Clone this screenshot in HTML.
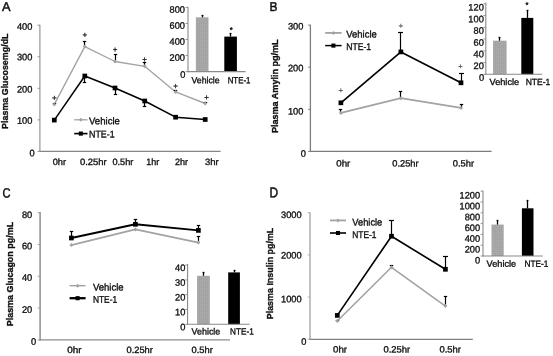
<!DOCTYPE html>
<html lang="en">
<head>
<meta charset="utf-8">
<title>Plasma glucose, amylin, glucagon and insulin: Vehicle vs NTE-1</title>
<style>
html,body{margin:0;padding:0;background:#fff;}
body{width:553px;height:356px;overflow:hidden;}
svg{display:block;}
svg text{font-family:"Liberation Sans",Arial,Helvetica,sans-serif;fill:#111;stroke:#111;stroke-width:0.34px;}
</style>
</head>
<body>
<svg width="553" height="356" viewBox="0 0 553 356">
<rect width="553" height="356" fill="#fff"/>
<defs><pattern id="dots" width="2" height="2" patternUnits="userSpaceOnUse"><rect width="2" height="2" fill="#a6a6a6"/><rect width="1" height="1" fill="#aaaaaa"/><rect x="1" y="1" width="1" height="1" fill="#a1a1a1"/></pattern></defs>
<text x="2" y="10.9" font-size="12.8" style="stroke-width:0.5px;" transform="rotate(0.05 2 10.9)">A</text>
<text x="8.1" y="81.2" font-size="9.1" text-anchor="middle" font-weight="bold" textLength="95.4" lengthAdjust="spacingAndGlyphs" transform="rotate(-90 8.1 81.2)">Plasma Glucosemg/dL</text>
<line x1="39.9" y1="24.7" x2="39.9" y2="152" stroke="#8c8c8c" stroke-width="1.1"/>
<line x1="39.35" y1="151.4" x2="220.6" y2="151.4" stroke="#858585" stroke-width="1.2"/>
<line x1="37.5" y1="25.2" x2="39.9" y2="25.2" stroke="#8c8c8c" stroke-width="0.9"/>
<text x="16.95" y="29.67" font-size="9.4" textLength="15.45" lengthAdjust="spacingAndGlyphs" transform="rotate(0.05 16.95 29.67)">400</text>
<line x1="37.5" y1="56.75" x2="39.9" y2="56.75" stroke="#8c8c8c" stroke-width="0.9"/>
<text x="16.95" y="60.37" font-size="9.4" textLength="15.45" lengthAdjust="spacingAndGlyphs" transform="rotate(0.05 16.95 60.37)">300</text>
<line x1="37.5" y1="88.3" x2="39.9" y2="88.3" stroke="#8c8c8c" stroke-width="0.9"/>
<text x="16.95" y="92.57" font-size="9.4" textLength="15.45" lengthAdjust="spacingAndGlyphs" transform="rotate(0.05 16.95 92.57)">200</text>
<line x1="37.5" y1="119.85" x2="39.9" y2="119.85" stroke="#8c8c8c" stroke-width="0.9"/>
<text x="16.95" y="123.77" font-size="9.4" textLength="15.45" lengthAdjust="spacingAndGlyphs" transform="rotate(0.05 16.95 123.77)">100</text>
<line x1="37.5" y1="151.4" x2="39.9" y2="151.4" stroke="#8c8c8c" stroke-width="0.9"/>
<text x="29.55" y="156.27" font-size="9.4" textLength="5.15" lengthAdjust="spacingAndGlyphs" transform="rotate(0.05 29.55 156.27)">0</text>
<polyline fill="none" stroke="#a3a3a3" stroke-width="1.35" stroke-linejoin="round" points="54.3,104.4 84.8,46.6 115,61.5 144.7,66.3 175.6,91.9 205.2,103.5"/>
<polyline fill="none" stroke="#000" stroke-width="1.5" stroke-linejoin="round" points="54.3,120.1 84.8,76 115,88 144.7,101 175.6,117.2 205.2,119.5"/>
<line x1="54.5" y1="104.4" x2="54.5" y2="103" stroke="#000" stroke-width="1.2"/>
<line x1="52.8" y1="103.5" x2="56.2" y2="103.5" stroke="#000" stroke-width="1.2"/>
<line x1="84.5" y1="46.6" x2="84.5" y2="41" stroke="#000" stroke-width="1.2"/>
<line x1="82.8" y1="41.5" x2="86.2" y2="41.5" stroke="#000" stroke-width="1.2"/>
<line x1="115.5" y1="61.5" x2="115.5" y2="54" stroke="#000" stroke-width="1.2"/>
<line x1="113.8" y1="54.5" x2="117.2" y2="54.5" stroke="#000" stroke-width="1.2"/>
<line x1="144.5" y1="66.3" x2="144.5" y2="62" stroke="#000" stroke-width="1.2"/>
<line x1="142.8" y1="62.5" x2="146.2" y2="62.5" stroke="#000" stroke-width="1.2"/>
<line x1="175.5" y1="91.9" x2="175.5" y2="90" stroke="#000" stroke-width="1.2"/>
<line x1="173.8" y1="90.5" x2="177.2" y2="90.5" stroke="#000" stroke-width="1.2"/>
<line x1="205.5" y1="103.5" x2="205.5" y2="102" stroke="#000" stroke-width="1.2"/>
<line x1="203.8" y1="102.5" x2="207.2" y2="102.5" stroke="#000" stroke-width="1.2"/>
<line x1="84.5" y1="76" x2="84.5" y2="82" stroke="#000" stroke-width="1.2"/>
<line x1="82.8" y1="82.5" x2="86.2" y2="82.5" stroke="#000" stroke-width="1.2"/>
<line x1="115.5" y1="88" x2="115.5" y2="94" stroke="#000" stroke-width="1.2"/>
<line x1="113.8" y1="94.5" x2="117.2" y2="94.5" stroke="#000" stroke-width="1.2"/>
<line x1="144.5" y1="101" x2="144.5" y2="106" stroke="#000" stroke-width="1.2"/>
<line x1="142.8" y1="106.5" x2="146.2" y2="106.5" stroke="#000" stroke-width="1.2"/>
<path d="M52.3 104.4L54.3 102.4L56.3 104.4L54.3 106.4Z" fill="#a3a3a3"/>
<path d="M82.8 46.6L84.8 44.6L86.8 46.6L84.8 48.6Z" fill="#a3a3a3"/>
<path d="M113 61.5L115 59.5L117 61.5L115 63.5Z" fill="#a3a3a3"/>
<path d="M142.7 66.3L144.7 64.3L146.7 66.3L144.7 68.3Z" fill="#a3a3a3"/>
<path d="M173.6 91.9L175.6 89.9L177.6 91.9L175.6 93.9Z" fill="#a3a3a3"/>
<path d="M203.2 103.5L205.2 101.5L207.2 103.5L205.2 105.5Z" fill="#a3a3a3"/>
<rect x="51.95" y="117.75" width="4.7" height="4.7" fill="#000"/>
<rect x="82.45" y="73.65" width="4.7" height="4.7" fill="#000"/>
<rect x="112.65" y="85.65" width="4.7" height="4.7" fill="#000"/>
<rect x="142.35" y="98.65" width="4.7" height="4.7" fill="#000"/>
<rect x="173.25" y="114.85" width="4.7" height="4.7" fill="#000"/>
<rect x="202.85" y="117.15" width="4.7" height="4.7" fill="#000"/>
<text x="54.3" y="100.6" font-size="8" text-anchor="middle" style="fill:#222;stroke:#222;" transform="rotate(0.05 54.3 100.6)">+</text>
<text x="84.8" y="37.6" font-size="8" text-anchor="middle" style="fill:#222;stroke:#222;" transform="rotate(0.05 84.8 37.6)">+</text>
<text x="115" y="52.3" font-size="8" text-anchor="middle" style="fill:#222;stroke:#222;" transform="rotate(0.05 115 52.3)">+</text>
<text x="144.7" y="62.1" font-size="8" text-anchor="middle" style="fill:#222;stroke:#222;" transform="rotate(0.05 144.7 62.1)">+</text>
<text x="175.6" y="88.8" font-size="8" text-anchor="middle" style="fill:#222;stroke:#222;" transform="rotate(0.05 175.6 88.8)">+</text>
<text x="206.5" y="99.9" font-size="8" text-anchor="middle" style="fill:#222;stroke:#222;" transform="rotate(0.05 206.5 99.9)">+</text>
<line x1="74.2" y1="119.8" x2="87.5" y2="119.8" stroke="#a3a3a3" stroke-width="1.3"/>
<path d="M78.85 119.8L80.85 117.8L82.85 119.8L80.85 121.8Z" fill="#a3a3a3"/>
<line x1="74.2" y1="133.6" x2="87.5" y2="133.6" stroke="#000" stroke-width="1.6"/>
<rect x="78.8" y="131.55" width="4.1" height="4.1" fill="#000"/>
<text x="89" y="124.3" font-size="9.7" textLength="30.9" lengthAdjust="spacingAndGlyphs" transform="rotate(0.05 89 124.3)">Vehicle</text>
<text x="89" y="137.5" font-size="9.7" textLength="25.65" lengthAdjust="spacingAndGlyphs" transform="rotate(0.05 89 137.5)">NTE-1</text>
<text x="52.7" y="165.1" font-size="9.2" textLength="13.3" lengthAdjust="spacingAndGlyphs" transform="rotate(0.05 52.7 165.1)">0hr</text>
<text x="79.9" y="165.1" font-size="9.2" textLength="26.8" lengthAdjust="spacingAndGlyphs" transform="rotate(0.05 79.9 165.1)">0.25hr</text>
<text x="112.4" y="165.1" font-size="9.2" textLength="20.9" lengthAdjust="spacingAndGlyphs" transform="rotate(0.05 112.4 165.1)">0.5hr</text>
<text x="146.3" y="165.1" font-size="9.2" textLength="13" lengthAdjust="spacingAndGlyphs" transform="rotate(0.05 146.3 165.1)">1hr</text>
<text x="175.1" y="165.1" font-size="9.2" textLength="13" lengthAdjust="spacingAndGlyphs" transform="rotate(0.05 175.1 165.1)">2hr</text>
<text x="204.9" y="165.1" font-size="9.2" textLength="13.8" lengthAdjust="spacingAndGlyphs" transform="rotate(0.05 204.9 165.1)">3hr</text>
<rect x="195.9" y="17.3" width="12.6" height="54.3" fill="url(#dots)"/>
<line x1="202.5" y1="17.3" x2="202.5" y2="15" stroke="#000" stroke-width="1.3"/>
<line x1="201.65" y1="15.5" x2="203.35" y2="15.5" stroke="#000" stroke-width="1.3"/>
<rect x="224.3" y="36.6" width="12.6" height="35" fill="#000"/>
<line x1="230.5" y1="36.6" x2="230.5" y2="33" stroke="#000" stroke-width="1.3"/>
<line x1="229.65" y1="33.5" x2="231.35" y2="33.5" stroke="#000" stroke-width="1.3"/>
<line x1="188" y1="6.8" x2="188" y2="72.15" stroke="#8a8a8a" stroke-width="1.1"/>
<line x1="187.45" y1="71.6" x2="245.6" y2="71.6" stroke="#8a8a8a" stroke-width="1.1"/>
<line x1="185.6" y1="7.44" x2="188" y2="7.44" stroke="#8a8a8a" stroke-width="0.9"/>
<text x="169.55" y="12.87" font-size="9.4" textLength="15.45" lengthAdjust="spacingAndGlyphs" transform="rotate(0.05 169.55 12.87)">800</text>
<line x1="185.6" y1="23.48" x2="188" y2="23.48" stroke="#8a8a8a" stroke-width="0.9"/>
<text x="169.55" y="28.87" font-size="9.4" textLength="15.45" lengthAdjust="spacingAndGlyphs" transform="rotate(0.05 169.55 28.87)">600</text>
<line x1="185.6" y1="39.52" x2="188" y2="39.52" stroke="#8a8a8a" stroke-width="0.9"/>
<text x="169.55" y="44.77" font-size="9.4" textLength="15.45" lengthAdjust="spacingAndGlyphs" transform="rotate(0.05 169.55 44.77)">400</text>
<line x1="185.6" y1="55.56" x2="188" y2="55.56" stroke="#8a8a8a" stroke-width="0.9"/>
<text x="169.55" y="60.67" font-size="9.4" textLength="15.45" lengthAdjust="spacingAndGlyphs" transform="rotate(0.05 169.55 60.67)">200</text>
<line x1="185.6" y1="71.6" x2="188" y2="71.6" stroke="#8a8a8a" stroke-width="0.9"/>
<text x="180.15" y="77.77" font-size="9.4" textLength="5.15" lengthAdjust="spacingAndGlyphs" transform="rotate(0.05 180.15 77.77)">0</text>
<text x="191.5" y="83.2" font-size="9" textLength="28" lengthAdjust="spacingAndGlyphs" transform="rotate(0.05 191.5 83.2)">Vehicle</text>
<text x="227.7" y="83.2" font-size="9" textLength="22.7" lengthAdjust="spacingAndGlyphs" transform="rotate(0.05 227.7 83.2)">NTE-1</text>
<text x="231.2" y="32.6" font-size="7.6" text-anchor="middle" transform="rotate(0.05 231.2 32.6)">*</text>
<text x="269.6" y="10.9" font-size="12.8" style="stroke-width:0.5px;" textLength="8" lengthAdjust="spacingAndGlyphs" transform="rotate(0.05 269.6 10.9)">B</text>
<text x="278.5" y="86.2" font-size="9.1" text-anchor="middle" font-weight="bold" textLength="93.7" lengthAdjust="spacingAndGlyphs" transform="rotate(-90 278.5 86.2)">Plasma Amylin pg/mL</text>
<line x1="310.4" y1="24.7" x2="310.4" y2="152.05" stroke="#7c7c7c" stroke-width="1.3"/>
<line x1="309.75" y1="151.4" x2="491.6" y2="151.4" stroke="#7c7c7c" stroke-width="1.3"/>
<line x1="308" y1="25.1" x2="310.4" y2="25.1" stroke="#7c7c7c" stroke-width="0.9"/>
<text x="287.95" y="29.57" font-size="9.4" textLength="15.45" lengthAdjust="spacingAndGlyphs" transform="rotate(0.05 287.95 29.57)">300</text>
<line x1="308" y1="67.2" x2="310.4" y2="67.2" stroke="#7c7c7c" stroke-width="0.9"/>
<text x="287.95" y="71.37" font-size="9.4" textLength="15.45" lengthAdjust="spacingAndGlyphs" transform="rotate(0.05 287.95 71.37)">200</text>
<line x1="308" y1="109.3" x2="310.4" y2="109.3" stroke="#7c7c7c" stroke-width="0.9"/>
<text x="287.95" y="114.57" font-size="9.4" textLength="15.45" lengthAdjust="spacingAndGlyphs" transform="rotate(0.05 287.95 114.57)">100</text>
<line x1="308" y1="151.4" x2="310.4" y2="151.4" stroke="#7c7c7c" stroke-width="0.9"/>
<text x="300.85" y="156.77" font-size="9.4" textLength="5.15" lengthAdjust="spacingAndGlyphs" transform="rotate(0.05 300.85 156.77)">0</text>
<polyline fill="none" stroke="#a3a3a3" stroke-width="1.7" stroke-linejoin="round" points="340.9,112.9 400.9,98.2 461,107.9"/>
<polyline fill="none" stroke="#000" stroke-width="1.65" stroke-linejoin="round" points="340.9,102.8 400.9,51.9 461,82.8"/>
<line x1="340.5" y1="112.9" x2="340.5" y2="109" stroke="#000" stroke-width="1.2"/>
<line x1="338.8" y1="109.5" x2="342.2" y2="109.5" stroke="#000" stroke-width="1.2"/>
<line x1="400.5" y1="98.2" x2="400.5" y2="91" stroke="#000" stroke-width="1.2"/>
<line x1="398.8" y1="91.5" x2="402.2" y2="91.5" stroke="#000" stroke-width="1.2"/>
<line x1="461.5" y1="107.9" x2="461.5" y2="104" stroke="#000" stroke-width="1.2"/>
<line x1="459.8" y1="104.5" x2="463.2" y2="104.5" stroke="#000" stroke-width="1.2"/>
<line x1="400.5" y1="51.9" x2="400.5" y2="32" stroke="#000" stroke-width="1.2"/>
<line x1="398" y1="32.5" x2="403" y2="32.5" stroke="#000" stroke-width="1.2"/>
<line x1="461.5" y1="82.8" x2="461.5" y2="73" stroke="#000" stroke-width="1.2"/>
<line x1="459" y1="73.5" x2="464" y2="73.5" stroke="#000" stroke-width="1.2"/>
<path d="M338.9 112.9L340.9 110.9L342.9 112.9L340.9 114.9Z" fill="#a3a3a3"/>
<path d="M398.9 98.2L400.9 96.2L402.9 98.2L400.9 100.2Z" fill="#a3a3a3"/>
<path d="M459 107.9L461 105.9L463 107.9L461 109.9Z" fill="#a3a3a3"/>
<rect x="338.55" y="100.45" width="4.7" height="4.7" fill="#000"/>
<rect x="398.55" y="49.55" width="4.7" height="4.7" fill="#000"/>
<rect x="458.65" y="80.45" width="4.7" height="4.7" fill="#000"/>
<text x="340.9" y="93" font-size="8" text-anchor="middle" style="fill:#444;stroke:#444;stroke-width:0.1px;" transform="rotate(0.05 340.9 93)">+</text>
<text x="400.9" y="28.4" font-size="8" text-anchor="middle" style="fill:#444;stroke:#444;stroke-width:0.1px;" transform="rotate(0.05 400.9 28.4)">+</text>
<text x="460.4" y="68.9" font-size="8" text-anchor="middle" style="fill:#444;stroke:#444;stroke-width:0.1px;" transform="rotate(0.05 460.4 68.9)">+</text>
<line x1="325.2" y1="32.9" x2="341.6" y2="32.9" stroke="#a3a3a3" stroke-width="1.8"/>
<path d="M331.4 32.9L333.4 30.9L335.4 32.9L333.4 34.9Z" fill="#a3a3a3"/>
<line x1="325.2" y1="45.6" x2="341.6" y2="45.6" stroke="#000" stroke-width="1.5"/>
<rect x="331.35" y="43.55" width="4.1" height="4.1" fill="#000"/>
<text x="346.3" y="37.5" font-size="9.7" textLength="30.49" lengthAdjust="spacingAndGlyphs" transform="rotate(0.05 346.3 37.5)">Vehicle</text>
<text x="346.3" y="49.9" font-size="9.7" textLength="24.85" lengthAdjust="spacingAndGlyphs" transform="rotate(0.05 346.3 49.9)">NTE-1</text>
<text x="336.3" y="166.4" font-size="9.2" textLength="14" lengthAdjust="spacingAndGlyphs" transform="rotate(0.05 336.3 166.4)">0hr</text>
<text x="392.3" y="166.4" font-size="9.2" textLength="26.3" lengthAdjust="spacingAndGlyphs" transform="rotate(0.05 392.3 166.4)">0.25hr</text>
<text x="452.8" y="166.4" font-size="9.2" textLength="21.2" lengthAdjust="spacingAndGlyphs" transform="rotate(0.05 452.8 166.4)">0.5hr</text>
<rect x="493.1" y="40.7" width="13.5" height="33.6" fill="url(#dots)"/>
<line x1="499.5" y1="40.7" x2="499.5" y2="37" stroke="#000" stroke-width="1.3"/>
<line x1="498.65" y1="37.5" x2="500.35" y2="37.5" stroke="#000" stroke-width="1.3"/>
<rect x="521.3" y="17.9" width="12" height="56.4" fill="#000"/>
<line x1="527.5" y1="17.9" x2="527.5" y2="10" stroke="#000" stroke-width="1.3"/>
<line x1="526.65" y1="10.5" x2="528.35" y2="10.5" stroke="#000" stroke-width="1.3"/>
<line x1="485.8" y1="2.5" x2="485.8" y2="74.85" stroke="#8a8a8a" stroke-width="1.1"/>
<line x1="485.25" y1="74.3" x2="542.3" y2="74.3" stroke="#8a8a8a" stroke-width="1.1"/>
<line x1="483.4" y1="3.8" x2="485.8" y2="3.8" stroke="#8a8a8a" stroke-width="0.9"/>
<text x="468.35" y="10.47" font-size="9.4" textLength="15.45" lengthAdjust="spacingAndGlyphs" transform="rotate(0.05 468.35 10.47)">120</text>
<line x1="483.4" y1="15.55" x2="485.8" y2="15.55" stroke="#8a8a8a" stroke-width="0.9"/>
<text x="468.35" y="22.37" font-size="9.4" textLength="15.45" lengthAdjust="spacingAndGlyphs" transform="rotate(0.05 468.35 22.37)">100</text>
<line x1="483.4" y1="27.3" x2="485.8" y2="27.3" stroke="#8a8a8a" stroke-width="0.9"/>
<text x="473.5" y="33.87" font-size="9.4" textLength="10.3" lengthAdjust="spacingAndGlyphs" transform="rotate(0.05 473.5 33.87)">80</text>
<line x1="483.4" y1="39.05" x2="485.8" y2="39.05" stroke="#8a8a8a" stroke-width="0.9"/>
<text x="473.5" y="45.67" font-size="9.4" textLength="10.3" lengthAdjust="spacingAndGlyphs" transform="rotate(0.05 473.5 45.67)">60</text>
<line x1="483.4" y1="50.8" x2="485.8" y2="50.8" stroke="#8a8a8a" stroke-width="0.9"/>
<text x="473.5" y="57.37" font-size="9.4" textLength="10.3" lengthAdjust="spacingAndGlyphs" transform="rotate(0.05 473.5 57.37)">40</text>
<line x1="483.4" y1="62.55" x2="485.8" y2="62.55" stroke="#8a8a8a" stroke-width="0.9"/>
<text x="473.5" y="69.07" font-size="9.4" textLength="10.3" lengthAdjust="spacingAndGlyphs" transform="rotate(0.05 473.5 69.07)">20</text>
<line x1="483.4" y1="74.3" x2="485.8" y2="74.3" stroke="#8a8a8a" stroke-width="0.9"/>
<text x="479.05" y="80.87" font-size="9.4" textLength="5.15" lengthAdjust="spacingAndGlyphs" transform="rotate(0.05 479.05 80.87)">0</text>
<text x="489.5" y="84.9" font-size="9" textLength="29.7" lengthAdjust="spacingAndGlyphs" transform="rotate(0.05 489.5 84.9)">Vehicle</text>
<text x="525.7" y="84.9" font-size="9" textLength="24.7" lengthAdjust="spacingAndGlyphs" transform="rotate(0.05 525.7 84.9)">NTE-1</text>
<text x="527" y="7.5" font-size="7.6" text-anchor="middle" transform="rotate(0.05 527 7.5)">*</text>
<text x="2.4" y="197.5" font-size="13.4" style="stroke-width:0.5px;" textLength="8" lengthAdjust="spacingAndGlyphs" transform="rotate(0.05 2.4 197.5)">C</text>
<text x="13.5" y="274.1" font-size="9.1" text-anchor="middle" font-weight="bold" textLength="104.4" lengthAdjust="spacingAndGlyphs" transform="rotate(-90 13.5 274.1)">Plasma Glucagon pg/mL</text>
<line x1="40.1" y1="212.1" x2="40.1" y2="340.55" stroke="#979797" stroke-width="1.6"/>
<line x1="39.3" y1="339.9" x2="230" y2="339.9" stroke="#8c8c8c" stroke-width="1.3"/>
<line x1="37.7" y1="212.7" x2="40.1" y2="212.7" stroke="#979797" stroke-width="0.9"/>
<text x="21.9" y="218.07" font-size="9.4" textLength="10.3" lengthAdjust="spacingAndGlyphs" transform="rotate(0.05 21.9 218.07)">80</text>
<line x1="37.7" y1="244.5" x2="40.1" y2="244.5" stroke="#979797" stroke-width="0.9"/>
<text x="21.9" y="249.17" font-size="9.4" textLength="10.3" lengthAdjust="spacingAndGlyphs" transform="rotate(0.05 21.9 249.17)">60</text>
<line x1="37.7" y1="276.3" x2="40.1" y2="276.3" stroke="#979797" stroke-width="0.9"/>
<text x="21.9" y="280.77" font-size="9.4" textLength="10.3" lengthAdjust="spacingAndGlyphs" transform="rotate(0.05 21.9 280.77)">40</text>
<line x1="37.7" y1="308.1" x2="40.1" y2="308.1" stroke="#979797" stroke-width="0.9"/>
<text x="21.9" y="312.87" font-size="9.4" textLength="10.3" lengthAdjust="spacingAndGlyphs" transform="rotate(0.05 21.9 312.87)">20</text>
<line x1="37.7" y1="339.9" x2="40.1" y2="339.9" stroke="#979797" stroke-width="0.9"/>
<text x="31.05" y="344.87" font-size="9.4" textLength="5.15" lengthAdjust="spacingAndGlyphs" transform="rotate(0.05 31.05 344.87)">0</text>
<polyline fill="none" stroke="#a3a3a3" stroke-width="1.7" stroke-linejoin="round" points="71.4,245.1 135.4,229.4 198.4,242.6"/>
<polyline fill="none" stroke="#000" stroke-width="1.9" stroke-linejoin="round" points="71.4,238 135.4,224.3 198.4,230.4"/>
<line x1="198.5" y1="242.6" x2="198.5" y2="236" stroke="#000" stroke-width="1.2"/>
<line x1="196.8" y1="236.5" x2="200.2" y2="236.5" stroke="#000" stroke-width="1.2"/>
<line x1="71.5" y1="238" x2="71.5" y2="231" stroke="#000" stroke-width="1.2"/>
<line x1="69.8" y1="231.5" x2="73.2" y2="231.5" stroke="#000" stroke-width="1.2"/>
<line x1="135.5" y1="224.3" x2="135.5" y2="219" stroke="#000" stroke-width="1.2"/>
<line x1="133.8" y1="219.5" x2="137.2" y2="219.5" stroke="#000" stroke-width="1.2"/>
<line x1="198.5" y1="230.4" x2="198.5" y2="225" stroke="#000" stroke-width="1.2"/>
<line x1="196.8" y1="225.5" x2="200.2" y2="225.5" stroke="#000" stroke-width="1.2"/>
<path d="M69.4 245.1L71.4 243.1L73.4 245.1L71.4 247.1Z" fill="#a3a3a3"/>
<path d="M133.4 229.4L135.4 227.4L137.4 229.4L135.4 231.4Z" fill="#a3a3a3"/>
<path d="M196.4 242.6L198.4 240.6L200.4 242.6L198.4 244.6Z" fill="#a3a3a3"/>
<rect x="69.05" y="235.65" width="4.7" height="4.7" fill="#000"/>
<rect x="133.05" y="221.95" width="4.7" height="4.7" fill="#000"/>
<rect x="196.05" y="228.05" width="4.7" height="4.7" fill="#000"/>
<line x1="69.6" y1="285.7" x2="85.6" y2="285.7" stroke="#a3a3a3" stroke-width="1.4"/>
<path d="M75.6 285.7L77.6 283.7L79.6 285.7L77.6 287.7Z" fill="#a3a3a3"/>
<line x1="69.6" y1="298.2" x2="85.6" y2="298.2" stroke="#000" stroke-width="2.3"/>
<rect x="75.55" y="296.15" width="4.1" height="4.1" fill="#000"/>
<text x="92.9" y="290.6" font-size="9.7" textLength="30.8" lengthAdjust="spacingAndGlyphs" transform="rotate(0.05 92.9 290.6)">Vehicle</text>
<text x="92.9" y="302.7" font-size="9.7" textLength="24.34" lengthAdjust="spacingAndGlyphs" transform="rotate(0.05 92.9 302.7)">NTE-1</text>
<text x="67.3" y="353" font-size="9.2" textLength="14.3" lengthAdjust="spacingAndGlyphs" transform="rotate(0.05 67.3 353)">0hr</text>
<text x="126.5" y="353" font-size="9.2" textLength="26.4" lengthAdjust="spacingAndGlyphs" transform="rotate(0.05 126.5 353)">0.25hr</text>
<text x="191.6" y="353" font-size="9.2" textLength="21.2" lengthAdjust="spacingAndGlyphs" transform="rotate(0.05 191.6 353)">0.5hr</text>
<rect x="197.1" y="275.8" width="12.7" height="48.5" fill="url(#dots)"/>
<line x1="203.5" y1="275.8" x2="203.5" y2="272" stroke="#000" stroke-width="1.3"/>
<line x1="202.65" y1="272.5" x2="204.35" y2="272.5" stroke="#000" stroke-width="1.3"/>
<rect x="228.2" y="272.4" width="11.7" height="51.9" fill="#000"/>
<line x1="234.5" y1="272.4" x2="234.5" y2="270" stroke="#000" stroke-width="1.3"/>
<line x1="233.65" y1="270.5" x2="235.35" y2="270.5" stroke="#000" stroke-width="1.3"/>
<line x1="187.6" y1="264.1" x2="187.6" y2="324.85" stroke="#8a8a8a" stroke-width="1.1"/>
<line x1="187.05" y1="324.3" x2="249.6" y2="324.3" stroke="#8a8a8a" stroke-width="1.1"/>
<line x1="185.2" y1="265.1" x2="187.6" y2="265.1" stroke="#8a8a8a" stroke-width="0.9"/>
<text x="175" y="271.07" font-size="9.4" textLength="10.3" lengthAdjust="spacingAndGlyphs" transform="rotate(0.05 175 271.07)">40</text>
<line x1="185.2" y1="279.9" x2="187.6" y2="279.9" stroke="#8a8a8a" stroke-width="0.9"/>
<text x="175" y="285.87" font-size="9.4" textLength="10.3" lengthAdjust="spacingAndGlyphs" transform="rotate(0.05 175 285.87)">30</text>
<line x1="185.2" y1="294.7" x2="187.6" y2="294.7" stroke="#8a8a8a" stroke-width="0.9"/>
<text x="175" y="300.57" font-size="9.4" textLength="10.3" lengthAdjust="spacingAndGlyphs" transform="rotate(0.05 175 300.57)">20</text>
<line x1="185.2" y1="309.5" x2="187.6" y2="309.5" stroke="#8a8a8a" stroke-width="0.9"/>
<text x="175" y="315.27" font-size="9.4" textLength="10.3" lengthAdjust="spacingAndGlyphs" transform="rotate(0.05 175 315.27)">10</text>
<line x1="185.2" y1="324.3" x2="187.6" y2="324.3" stroke="#8a8a8a" stroke-width="0.9"/>
<text x="180.15" y="330.37" font-size="9.4" textLength="5.15" lengthAdjust="spacingAndGlyphs" transform="rotate(0.05 180.15 330.37)">0</text>
<text x="191.5" y="334.6" font-size="9" textLength="28.8" lengthAdjust="spacingAndGlyphs" transform="rotate(0.05 191.5 334.6)">Vehicle</text>
<text x="230.1" y="334.6" font-size="9" textLength="23.6" lengthAdjust="spacingAndGlyphs" transform="rotate(0.05 230.1 334.6)">NTE-1</text>
<text x="269.5" y="197.2" font-size="14" style="stroke-width:0.55px;" textLength="8.6" lengthAdjust="spacingAndGlyphs" transform="rotate(0.05 269.5 197.2)">D</text>
<text x="272.6" y="273.5" font-size="9.1" text-anchor="middle" font-weight="bold" textLength="91.5" lengthAdjust="spacingAndGlyphs" transform="rotate(-90 272.6 273.5)">Plasma Insulin pg/mL</text>
<line x1="310" y1="212.3" x2="310" y2="339.95" stroke="#adadad" stroke-width="1.5"/>
<line x1="309.25" y1="339.3" x2="472.8" y2="339.3" stroke="#808080" stroke-width="1.3"/>
<line x1="307.6" y1="212.7" x2="310" y2="212.7" stroke="#adadad" stroke-width="0.9"/>
<text x="281" y="218.07" font-size="9.4" textLength="20.6" lengthAdjust="spacingAndGlyphs" transform="rotate(0.05 281 218.07)">3000</text>
<line x1="307.6" y1="254.9" x2="310" y2="254.9" stroke="#adadad" stroke-width="0.9"/>
<text x="281" y="258.57" font-size="9.4" textLength="20.6" lengthAdjust="spacingAndGlyphs" transform="rotate(0.05 281 258.57)">2000</text>
<line x1="307.6" y1="297.1" x2="310" y2="297.1" stroke="#adadad" stroke-width="0.9"/>
<text x="281" y="302.27" font-size="9.4" textLength="20.6" lengthAdjust="spacingAndGlyphs" transform="rotate(0.05 281 302.27)">1000</text>
<line x1="307.6" y1="339.3" x2="310" y2="339.3" stroke="#adadad" stroke-width="0.9"/>
<text x="301.35" y="344.67" font-size="9.4" textLength="5.15" lengthAdjust="spacingAndGlyphs" transform="rotate(0.05 301.35 344.67)">0</text>
<polyline fill="none" stroke="#a3a3a3" stroke-width="1.6" stroke-linejoin="round" points="337.3,321 391.5,267.3 445.4,306.1"/>
<polyline fill="none" stroke="#000" stroke-width="1.65" stroke-linejoin="round" points="337.3,315.4 391.5,236.2 445.4,269.3"/>
<line x1="337.5" y1="321" x2="337.5" y2="320" stroke="#000" stroke-width="1.2"/>
<line x1="335.8" y1="320.5" x2="339.2" y2="320.5" stroke="#000" stroke-width="1.2"/>
<line x1="391.5" y1="267.3" x2="391.5" y2="265" stroke="#000" stroke-width="1.2"/>
<line x1="389.8" y1="265.5" x2="393.2" y2="265.5" stroke="#000" stroke-width="1.2"/>
<line x1="445.5" y1="306.1" x2="445.5" y2="296" stroke="#000" stroke-width="1.2"/>
<line x1="443.8" y1="296.5" x2="447.2" y2="296.5" stroke="#000" stroke-width="1.2"/>
<line x1="391.5" y1="236.2" x2="391.5" y2="220" stroke="#000" stroke-width="1.2"/>
<line x1="389" y1="220.5" x2="394" y2="220.5" stroke="#000" stroke-width="1.2"/>
<line x1="445.5" y1="269.3" x2="445.5" y2="256" stroke="#000" stroke-width="1.2"/>
<line x1="443" y1="256.5" x2="448" y2="256.5" stroke="#000" stroke-width="1.2"/>
<path d="M335.3 321L337.3 319L339.3 321L337.3 323Z" fill="#a3a3a3"/>
<path d="M389.5 267.3L391.5 265.3L393.5 267.3L391.5 269.3Z" fill="#a3a3a3"/>
<path d="M443.4 306.1L445.4 304.1L447.4 306.1L445.4 308.1Z" fill="#a3a3a3"/>
<rect x="334.95" y="313.05" width="4.7" height="4.7" fill="#000"/>
<rect x="389.15" y="233.85" width="4.7" height="4.7" fill="#000"/>
<rect x="443.05" y="266.95" width="4.7" height="4.7" fill="#000"/>
<line x1="330" y1="220.4" x2="346" y2="220.4" stroke="#a3a3a3" stroke-width="1.8"/>
<path d="M336 220.4L338 218.4L340 220.4L338 222.4Z" fill="#a3a3a3"/>
<line x1="330" y1="233" x2="346" y2="233" stroke="#000" stroke-width="1.6"/>
<rect x="335.95" y="230.95" width="4.1" height="4.1" fill="#000"/>
<text x="352.3" y="225.6" font-size="9.7" textLength="29.97" lengthAdjust="spacingAndGlyphs" transform="rotate(0.05 352.3 225.6)">Vehicle</text>
<text x="352.3" y="238" font-size="9.7" textLength="24.24" lengthAdjust="spacingAndGlyphs" transform="rotate(0.05 352.3 238)">NTE-1</text>
<text x="333" y="352.6" font-size="9.2" textLength="14" lengthAdjust="spacingAndGlyphs" transform="rotate(0.05 333 352.6)">0hr</text>
<text x="383.5" y="352.6" font-size="9.2" textLength="26.7" lengthAdjust="spacingAndGlyphs" transform="rotate(0.05 383.5 352.6)">0.25hr</text>
<text x="439.5" y="352.6" font-size="9.2" textLength="21.5" lengthAdjust="spacingAndGlyphs" transform="rotate(0.05 439.5 352.6)">0.5hr</text>
<rect x="491.5" y="224.6" width="12.2" height="31.4" fill="url(#dots)"/>
<line x1="497.5" y1="224.6" x2="497.5" y2="220" stroke="#000" stroke-width="1.3"/>
<line x1="496.65" y1="220.5" x2="498.35" y2="220.5" stroke="#000" stroke-width="1.3"/>
<rect x="521.9" y="208.3" width="11.6" height="47.7" fill="#000"/>
<line x1="527.5" y1="208.3" x2="527.5" y2="200" stroke="#000" stroke-width="1.3"/>
<line x1="526.65" y1="200.5" x2="528.35" y2="200.5" stroke="#000" stroke-width="1.3"/>
<line x1="483" y1="190.4" x2="483" y2="256.55" stroke="#8a8a8a" stroke-width="1.1"/>
<line x1="482.45" y1="256" x2="542.8" y2="256" stroke="#8a8a8a" stroke-width="1.1"/>
<line x1="480.6" y1="191.2" x2="483" y2="191.2" stroke="#8a8a8a" stroke-width="0.9"/>
<text x="459.5" y="198.57" font-size="9.4" textLength="20.6" lengthAdjust="spacingAndGlyphs" transform="rotate(0.05 459.5 198.57)">1200</text>
<line x1="480.6" y1="202" x2="483" y2="202" stroke="#8a8a8a" stroke-width="0.9"/>
<text x="459.5" y="209.37" font-size="9.4" textLength="20.6" lengthAdjust="spacingAndGlyphs" transform="rotate(0.05 459.5 209.37)">1000</text>
<line x1="480.6" y1="212.8" x2="483" y2="212.8" stroke="#8a8a8a" stroke-width="0.9"/>
<text x="464.65" y="220.17" font-size="9.4" textLength="15.45" lengthAdjust="spacingAndGlyphs" transform="rotate(0.05 464.65 220.17)">800</text>
<line x1="480.6" y1="223.6" x2="483" y2="223.6" stroke="#8a8a8a" stroke-width="0.9"/>
<text x="464.65" y="230.97" font-size="9.4" textLength="15.45" lengthAdjust="spacingAndGlyphs" transform="rotate(0.05 464.65 230.97)">600</text>
<line x1="480.6" y1="234.4" x2="483" y2="234.4" stroke="#8a8a8a" stroke-width="0.9"/>
<text x="464.65" y="241.77" font-size="9.4" textLength="15.45" lengthAdjust="spacingAndGlyphs" transform="rotate(0.05 464.65 241.77)">400</text>
<line x1="480.6" y1="245.2" x2="483" y2="245.2" stroke="#8a8a8a" stroke-width="0.9"/>
<text x="464.65" y="252.57" font-size="9.4" textLength="15.45" lengthAdjust="spacingAndGlyphs" transform="rotate(0.05 464.65 252.57)">200</text>
<line x1="480.6" y1="256" x2="483" y2="256" stroke="#8a8a8a" stroke-width="0.9"/>
<text x="474.95" y="263.47" font-size="9.4" textLength="5.15" lengthAdjust="spacingAndGlyphs" transform="rotate(0.05 474.95 263.47)">0</text>
<text x="486.6" y="266.8" font-size="9" textLength="29.6" lengthAdjust="spacingAndGlyphs" transform="rotate(0.05 486.6 266.8)">Vehicle</text>
<text x="524.5" y="266.8" font-size="9" textLength="24" lengthAdjust="spacingAndGlyphs" transform="rotate(0.05 524.5 266.8)">NTE-1</text>
</svg>
</body>
</html>
